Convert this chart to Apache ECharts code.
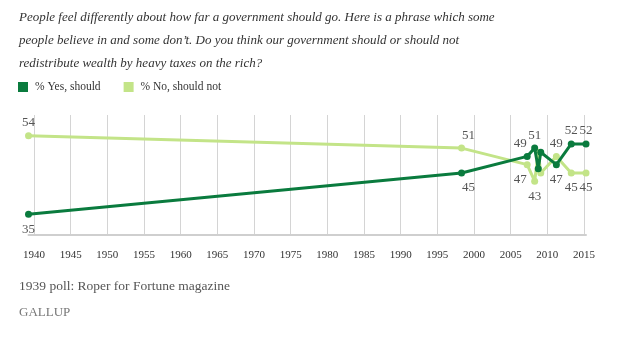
<!DOCTYPE html>
<html><head><meta charset="utf-8">
<script src="https://cdn.jsdelivr.net/npm/echarts@6/dist/echarts.min.js"></script>
<style>html,body{margin:0;padding:0;background:#fff}#c{width:617px;height:342px}</style>
</head><body><div id="c"></div>
<script>
// ---- data ----
const titleLines = [
  'People feel differently about how far a government should go. Here is a phrase which some',
  'people believe in and some don\u2019t. Do you think our government should or should not',
  'redistribute wealth by heavy taxes on the rich?'
];
const seriesNames = ['% Yes, should', '% No, should not'];
const years = [1939.25, 1998.3, 2007.25, 2008.27, 2008.76, 2009.1, 2011.23, 2013.26, 2015.27];
const yesValues = [35, 45, 49, 51, 46, 50, 47, 52, 52];
const noValues  = [54, 51, 47, 43, 50, 45, 49, 45, 45];
const xTickStep = 5;
const footnote = '1939 poll: Roper for Fortune magazine';
const brand = 'GALLUP';

// ---- label placement (style only) ----
const yesLabelPos = ['bottom','bottom','top','top',null,null,'bottom','top','top'];
const noLabelPos  = ['top','top','bottom','bottom',null,null,'top','bottom','bottom'];
const labelShift  = [0, 7, -7, 0, 0, 0, 0, 0, 0];

const DARK = '#0a7b3e', LIGHT = '#c3e488';
const SERIF = '"Liberation Serif", "DejaVu Serif", serif';

function build(vals, pos) {
  return vals.map((v, i) => ({
    value: [years[i], v],
    label: pos[i]
      ? { show: true, position: pos[i], distance: pos[i] === 'top' ? 3 : 5, offset: [labelShift[i], 0] }
      : { show: false }
  }));
}

const chart = echarts.init(document.getElementById('c'), null, { renderer: 'canvas' });
const labelStyle = {
  formatter: p => p.value[1],
  fontFamily: SERIF, fontSize: 13, color: '#555'
};
chart.setOption({
  animation: false,
  title: [
    { text: titleLines.join('\n'), left: 19, top: 6, padding: 0,
      textStyle: { fontFamily: SERIF, fontStyle: 'italic', fontWeight: 'normal', fontSize: 13, lineHeight: 23, color: '#333' } },
    { text: footnote, left: 19, top: 279, padding: 0,
      textStyle: { fontFamily: SERIF, fontWeight: 'normal', fontSize: 13.5, color: '#555' } },
    { text: brand, left: 19, top: 306, padding: 0,
      textStyle: { fontFamily: SERIF, fontWeight: 'normal', fontSize: 13, color: '#777' } }
  ],
  legend: {
    left: 18, top: 81, padding: 0, icon: 'rect', itemWidth: 10, itemHeight: 10, itemGap: 23,
    textStyle: { fontFamily: SERIF, fontSize: 11.5, color: '#333', padding: [0, 0, 0, 2] },
    data: seriesNames
  },
  grid: { left: 28.5, right: 31, top: 115, bottom: 107, containLabel: false },
  xAxis: {
    type: 'value',
    min: years[0], max: years[years.length - 1],
    splitNumber: 15,
    axisLine: { show: true, lineStyle: { color: '#cfcfcf', width: 2 } },
    axisTick: { show: false },
    axisLabel: {
      showMinLabel: false, showMaxLabel: false,
      formatter: v => (Math.abs(v % xTickStep) < 1e-6 ? String(v) : ''),
      fontFamily: SERIF, fontSize: 11, color: '#333', margin: 15
    },
    splitLine: { show: true, showMinLine: false, showMaxLine: false, lineStyle: { color: '#d4d4d4', width: 1 } }
  },
  yAxis: {
    type: 'value', min: 30, max: 59,
    show: false,
    splitLine: { show: false }
  },
  series: [
    { name: seriesNames[0], type: 'line', data: build(yesValues, yesLabelPos),
      symbol: 'circle', symbolSize: 7, lineStyle: { width: 3, color: DARK },
      itemStyle: { color: DARK }, label: labelStyle, z: 3 },
    { name: seriesNames[1], type: 'line', data: build(noValues, noLabelPos),
      symbol: 'circle', symbolSize: 7, lineStyle: { width: 3, color: LIGHT },
      itemStyle: { color: LIGHT }, label: labelStyle, z: 2 }
  ]
});
</script></body></html>
